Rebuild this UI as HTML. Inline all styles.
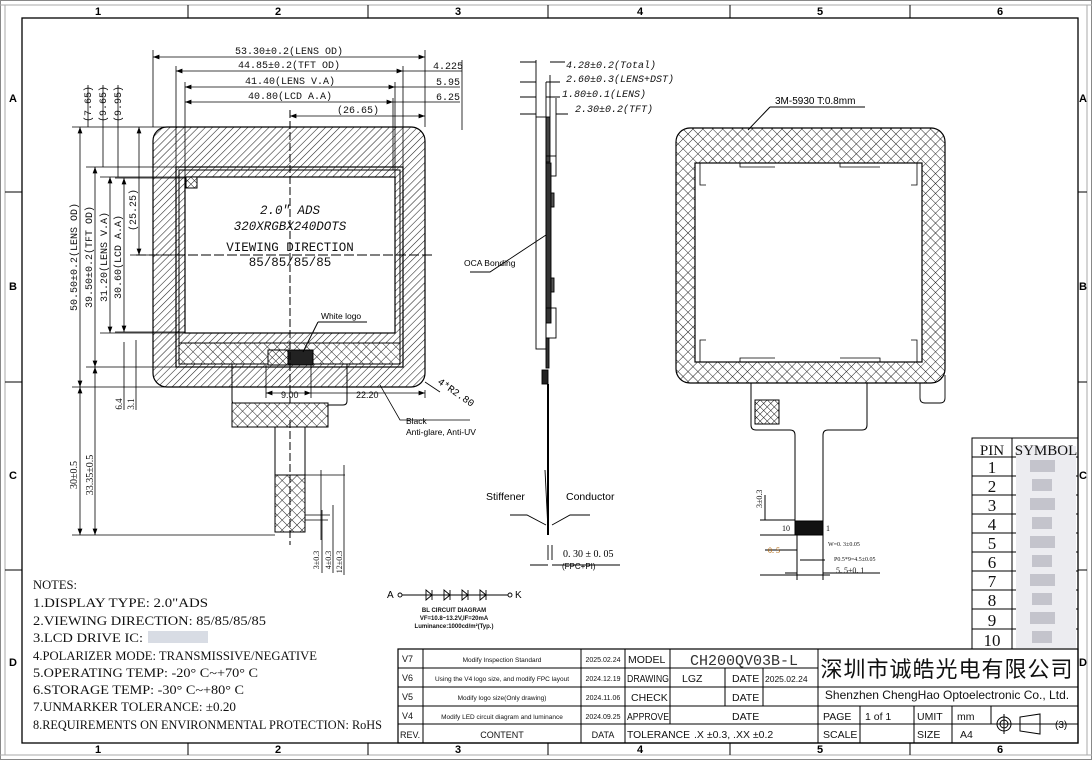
<!DOCTYPE html>
<html><head><meta charset="utf-8"><style>
html,body{margin:0;padding:0;background:#fff;}
svg{display:block;}
.m{font-family:"Liberation Mono",monospace;}
.s{font-family:"Liberation Sans",sans-serif;}
.r{font-family:"Liberation Serif",serif;}
</style></head><body>
<svg width="1092" height="760" viewBox="0 0 1092 760" xmlns="http://www.w3.org/2000/svg">
<defs>
<pattern id="hat" width="5" height="5" patternUnits="userSpaceOnUse" patternTransform="rotate(45)"><rect width="5" height="5" fill="#fff"/><line x1="0" y1="0" x2="0" y2="5" stroke="#222" stroke-width="1.1"/></pattern>
<pattern id="xh" width="7" height="7" patternUnits="userSpaceOnUse" patternTransform="rotate(45)"><rect width="7" height="7" fill="#fff"/><line x1="0" y1="0" x2="0" y2="7" stroke="#222" stroke-width="1"/><line x1="0" y1="0" x2="7" y2="0" stroke="#222" stroke-width="1"/></pattern>
<pattern id="xs" width="5" height="5" patternUnits="userSpaceOnUse" patternTransform="rotate(45)"><rect width="5" height="5" fill="#fff"/><line x1="0" y1="0" x2="0" y2="5" stroke="#111" stroke-width="1"/><line x1="0" y1="0" x2="5" y2="0" stroke="#111" stroke-width="1"/></pattern>
<marker id="a" markerWidth="8" markerHeight="6" refX="8" refY="3" orient="auto"><path d="M0,0 L8,3 L0,6z" fill="#000"/></marker>
<marker id="b" markerWidth="8" markerHeight="6" refX="0" refY="3" orient="auto"><path d="M8,0 L0,3 L8,6z" fill="#000"/></marker>
</defs>
<g fill="none" stroke="#000">
<rect x="0.5" y="0.5" width="1091" height="759" stroke="#888"/>
<rect x="22" y="18" width="1056" height="725" stroke-width="1.3"/>
<line x1="0" y1="5" x2="1092" y2="5" stroke="#aaa"/>
<line x1="0" y1="755" x2="1092" y2="755" stroke="#aaa"/>
<line x1="5" y1="5" x2="5" y2="755" stroke="#aaa"/>
<line x1="1087" y1="5" x2="1087" y2="755" stroke="#aaa"/>
<path d="M188,5V18M368,5V18M548,5V18M730,5V18M910,5V18M188,743V755M368,743V755M548,743V755M730,743V755M910,743V755M5,192H22M5,382H22M5,570H22M1078,192H1087M1078,382H1087M1078,570H1087"/>
</g>
<g class="s" font-weight="bold" font-size="11" text-anchor="middle">
<text x="98" y="15">1</text><text x="278" y="15">2</text><text x="458" y="15">3</text><text x="640" y="15">4</text><text x="820" y="15">5</text><text x="1000" y="15">6</text>
<text x="98" y="753">1</text><text x="278" y="753">2</text><text x="458" y="753">3</text><text x="640" y="753">4</text><text x="820" y="753">5</text><text x="1000" y="753">6</text>
<text x="13" y="102">A</text><text x="13" y="290">B</text><text x="13" y="479">C</text><text x="13" y="666">D</text>
<text x="1083" y="102">A</text><text x="1083" y="290">B</text><text x="1083" y="479">C</text><text x="1083" y="666">D</text>
</g>

<!-- FRONT VIEW -->
<g stroke="#000" fill="none">
<rect x="153" y="127" width="272" height="260" rx="14" fill="url(#hat)" stroke-width="1.2"/>
<rect x="176" y="167" width="227" height="200" fill="none" stroke-width="1.2"/>
<rect x="179" y="170" width="221" height="194"/>
<rect x="179" y="343" width="221" height="21" fill="url(#xh)"/>
<rect x="185" y="177" width="210" height="156" fill="#fff" stroke-width="1.2"/>
<rect x="186" y="177" width="11" height="11" fill="url(#xs)"/>
<rect x="268" y="350" width="20" height="15" fill="url(#xs)"/>
<rect x="288" y="350" width="25" height="15" fill="#222"/>
<line x1="290" y1="110" x2="290" y2="420" stroke-dasharray="8,3"/>
<line x1="136" y1="255" x2="432" y2="255" stroke-dasharray="10,3"/>
<path d="M232,364V400q0,5 5,5H270q5,0 5,5V532H305V410q0,-5 5,-5H343q4,0 4,-4V364"/>
<rect x="232" y="403" width="96" height="24" fill="url(#xh)"/>
<rect x="275" y="475" width="30" height="57" fill="url(#xh)"/>
<line x1="290" y1="420" x2="290" y2="545" stroke-dasharray="8,3"/>
</g>
<g class="m" font-size="12.5" text-anchor="middle" fill="#111">
<text x="290" y="214" font-style="italic">2.0" ADS</text>
<text x="290" y="230" font-style="italic">320XRGBX240DOTS</text>
<text x="290" y="251">VIEWING DIRECTION</text>
<text x="290" y="266">85/85/85/85</text>
</g>
<text x="321" y="319" class="s" font-size="8.5">White logo</text>
<path d="M318,322H367M318,322L303,352" stroke="#000" fill="none"/>
<g stroke="#000" stroke-width="0.8" fill="none">
<path d="M153,50V127M176,66V167M185,82V177M395,82V177M403,66V167M393,98V170M425,50V127M462,60V130"/>
<line x1="153" y1="57" x2="425" y2="57" marker-start="url(#b)" marker-end="url(#a)"/>
<line x1="176" y1="71" x2="403" y2="71" marker-start="url(#b)" marker-end="url(#a)"/>
<line x1="185" y1="87" x2="395" y2="87" marker-start="url(#b)" marker-end="url(#a)"/>
<line x1="185" y1="102" x2="393" y2="102" marker-start="url(#b)" marker-end="url(#a)"/>
<line x1="290" y1="116" x2="425" y2="116" marker-start="url(#b)" marker-end="url(#a)"/>
<path d="M403,71H462M395,87H460M393,102H460"/>
<path d="M72,127H165M86,167H176M100,177H185M115,178H185M130,255H175M72,387H165M86,367H176M100,333H185M115,332H185"/>
<line x1="80" y1="127" x2="80" y2="387" marker-start="url(#b)" marker-end="url(#a)"/>
<line x1="95" y1="167" x2="95" y2="367" marker-start="url(#b)" marker-end="url(#a)"/>
<line x1="110" y1="177" x2="110" y2="333" marker-start="url(#b)" marker-end="url(#a)"/>
<line x1="124" y1="178" x2="124" y2="332" marker-start="url(#b)" marker-end="url(#a)"/>
<line x1="139" y1="127" x2="139" y2="255" marker-start="url(#b)" marker-end="url(#a)"/>
<path d="M88,85V127M103,85V167M118,85V177"/>
<path d="M124,342V410M136,340V410"/>
<line x1="80" y1="387" x2="80" y2="535" marker-start="url(#b)" marker-end="url(#a)"/>
<line x1="95" y1="367" x2="95" y2="535" marker-start="url(#b)" marker-end="url(#a)"/>
<path d="M72,535H275M305,475H345M305,515H330M305,520H328"/>
<path d="M321,470V540M322,510V573M333,505V573M344,465V575"/>
<path d="M266,365V398M311,365V398M425,390V398"/>
<line x1="266" y1="393" x2="311" y2="393" marker-start="url(#b)" marker-end="url(#a)"/>
<line x1="311" y1="393" x2="425" y2="393" marker-end="url(#a)"/>
<path d="M425,382L440,392M380,385L400,420H470"/>
</g>
<g class="m" font-size="10" text-anchor="middle" fill="#111">
<text x="289" y="54">53.30±0.2(LENS OD)</text>
<text x="289" y="68">44.85±0.2(TFT OD)</text>
<text x="290" y="84">41.40(LENS V.A)</text>
<text x="290" y="99">40.80(LCD A.A)</text>
<text x="358" y="113">(26.65)</text>
<text x="448" y="69">4.225</text>
<text x="448" y="85">5.95</text>
<text x="448" y="100">6.25</text>
</g>
<g class="m" font-size="10" fill="#111" text-anchor="middle">
<text transform="translate(77,257) rotate(-90)">50.50±0.2(LENS OD)</text>
<text transform="translate(92,257) rotate(-90)">39.50±0.2(TFT OD)</text>
<text transform="translate(107,257) rotate(-90)">31.20(LENS V.A)</text>
<text transform="translate(121,257) rotate(-90)">30.60(LCD A.A)</text>
<text transform="translate(136,210) rotate(-90)">(25.25)</text>
<text transform="translate(91,104) rotate(-90)">(7.65)</text>
<text transform="translate(106,104) rotate(-90)">(9.65)</text>
<text transform="translate(121,104) rotate(-90)">(9.95)</text>
</g>
<g class="r" font-size="9" fill="#111" text-anchor="middle">
<text transform="translate(122,404) rotate(-90)">6.4</text>
<text transform="translate(134,404) rotate(-90)">3.1</text>
<text transform="translate(77,475) rotate(-90)" font-size="10">30±0.5</text>
<text transform="translate(93,475) rotate(-90)" font-size="10">33.35±0.5</text>
<text transform="translate(319,560) rotate(-90)" font-size="8">3±0.3</text>
<text transform="translate(331,560) rotate(-90)" font-size="8">4±0.3</text>
<text transform="translate(342,562) rotate(-90)" font-size="8">12±0.3</text>
</g>
<text x="281" y="398" class="s" font-size="9" fill="#111">9.00</text>
<text x="356" y="398" class="s" font-size="9" fill="#111">22.20</text>
<text transform="translate(437,383) rotate(35)" class="m" font-size="10">4*R2.80</text>
<text x="406" y="424" class="s" font-size="8.5">Black</text>
<text x="406" y="435" class="s" font-size="8.5">Anti-glare, Anti-UV</text>

<!-- SIDE VIEW -->
<g stroke="#000" fill="none" stroke-width="0.9">
<rect x="536" y="117" width="10" height="232"/>
<rect x="546" y="117" width="4" height="45" fill="#444"/>
<rect x="546" y="156" width="10" height="20"/>
<rect x="546" y="163" width="5" height="160" fill="#333"/>
<rect x="551" y="193" width="3" height="14" fill="#555"/>
<rect x="551" y="278" width="3" height="14" fill="#555"/>
<rect x="546" y="308" width="10" height="30"/>
<rect x="546" y="338" width="3" height="30" fill="#333"/>
<rect x="542" y="370" width="6" height="14" fill="#222"/>
<line x1="548" y1="384" x2="548" y2="535" stroke-width="2"/>
<line x1="545" y1="470" x2="548" y2="530"/>
<path d="M536,60V117M546,82V117M550,75V117M556,98V156"/>
<path d="M520,62H536M550,62H565M520,82H536M546,82H560M520,97H536M546,97H560M520,114H536M556,114H568"/>
<path d="M548,545V560M552,545V560M530,565H548M552,565H620M510,515H527L546,525M590,515H570L552,525M470,272H490L546,235"/>
</g>
<g class="m" font-size="10" font-style="italic" fill="#111">
<text x="566" y="68">4.28±0.2(Total)</text>
<text x="566" y="82">2.60±0.3(LENS+DST)</text>
<text x="562" y="97">1.80±0.1(LENS)</text>
<text x="575" y="112">2.30±0.2(TFT)</text>
</g>
<text x="464" y="266" class="s" font-size="8.5">OCA Bonding</text>
<text x="486" y="500" class="s" font-size="10.5">Stiffener</text>
<text x="566" y="500" class="s" font-size="10.5">Conductor</text>
<text x="563" y="557" class="r" font-size="10">0. 30 ± 0. 05</text>
<text x="562" y="569" class="s" font-size="8">(FPC+PI)</text>
<text x="387" y="598" class="s" font-size="10">A</text>
<text x="515" y="598" class="s" font-size="10">K</text>
<g stroke="#000" fill="none" stroke-width="0.9">
<circle cx="400" cy="595" r="2"/><circle cx="510" cy="595" r="2"/>
<path d="M402,595H508"/>
<path d="M426,590L432,595L426,600zM432,590V600M444,590L450,595L444,600zM450,590V600M462,590L468,595L462,600zM468,590V600M480,590L486,595L480,600zM486,590V600"/>
</g>
<g class="s" font-size="6" font-weight="bold" text-anchor="middle" fill="#111">
<text x="454" y="612">BL CIRCUIT DIAGRAM</text>
<text x="454" y="620">VF=10.8~13.2V,IF=20mA</text>
<text x="454" y="628">Luminance:1000cd/m²(Typ.)</text>
</g>

<!-- REAR VIEW -->
<g stroke="#000" fill="none">
<path d="M920,375V398q0,5 5,5H940q5,0 5,-5V375" stroke-width="0.9"/>
<rect x="676" y="128" width="269" height="255" rx="14" fill="url(#xh)" stroke-width="1.2"/>
<rect x="695" y="163" width="227" height="199" fill="#fff" stroke-width="1.2"/>
<path d="M700,163V185H706M917,163V185H911M700,362V340H706M917,362V340H911M740,163V167H775M840,163V167H880M740,362V358H775M880,362V358H840" stroke-width="0.8"/>
<path d="M751,383V425q0,5 5,5H790q5,0 5,5V535H823V435q0,-5 5,-5H862q5,0 5,-5V383"/>
<rect x="755" y="400" width="24" height="24" fill="url(#xs)"/>
<rect x="795" y="521" width="28" height="14" fill="#111"/>
<path d="M797,535V580M823,535V580M760,520H795M760,535H795M765,495V520"/>
<path d="M765,550H797M800,560H825M785,573H797M823,573H880M760,575H830"/>
</g>
<text x="775" y="104" class="s" font-size="10">3M-5930 T:0.8mm</text>
<path d="M770,107H865M770,107L748,130" stroke="#000" fill="none"/>
<g class="r" font-size="8" fill="#111">
<text x="782" y="531">10</text><text x="826" y="531">1</text>
<text x="768" y="553" fill="#b06000">0. 5</text>
<text x="828" y="546" font-size="6">W=0. 3±0.05</text>
<text x="834" y="561" font-size="6">P0.5*9=4.5±0.05</text>
<text x="836" y="573">5. 5±0. 1</text>
<text transform="translate(762,508) rotate(-90)">3±0.3</text>
</g>

<!-- PIN TABLE -->
<g stroke="#000" fill="none">
<rect x="972" y="438" width="106" height="211"/>
<line x1="1012" y1="438" x2="1012" y2="649"/>
<path d="M972,457H1078M972,476H1078M972,495H1078M972,514H1078M972,533H1078M972,552H1078M972,571H1078M972,590H1078M972,609H1078M972,629H1078"/>
</g>
<rect x="1016" y="446" width="60" height="202" fill="#ececf0"/>
<g fill="#c4c4cc"><rect x="1030" y="460" width="25" height="12"/><rect x="1030" y="498" width="25" height="12"/><rect x="1030" y="536" width="25" height="12"/><rect x="1030" y="574" width="25" height="12"/><rect x="1030" y="612" width="25" height="12"/><rect x="1032" y="479" width="20" height="12"/><rect x="1032" y="517" width="20" height="12"/><rect x="1032" y="555" width="20" height="12"/><rect x="1032" y="593" width="20" height="12"/><rect x="1032" y="631" width="20" height="12"/></g>
<g class="r" font-size="17" text-anchor="middle" fill="#111">
<text x="992" y="455" font-size="15">PIN</text><text x="1046" y="455" font-size="15">SYMBOL</text>
<text x="992" y="473">1</text><text x="992" y="492">2</text><text x="992" y="511">3</text><text x="992" y="530">4</text><text x="992" y="549">5</text><text x="992" y="568">6</text><text x="992" y="587">7</text><text x="992" y="606">8</text><text x="992" y="626">9</text><text x="992" y="646">10</text>
</g>

<!-- NOTES -->
<g class="r" font-size="13" fill="#111">
<text x="33" y="589" textLength="44" lengthAdjust="spacingAndGlyphs">NOTES:</text>
<text x="33" y="607" textLength="175" lengthAdjust="spacingAndGlyphs">1.DISPLAY TYPE:  2.0"ADS</text>
<text x="33" y="625" textLength="233" lengthAdjust="spacingAndGlyphs">2.VIEWING DIRECTION: 85/85/85/85</text>
<text x="33" y="642" textLength="110" lengthAdjust="spacingAndGlyphs">3.LCD DRIVE IC:</text>
<text x="33" y="660" textLength="284" lengthAdjust="spacingAndGlyphs">4.POLARIZER MODE: TRANSMISSIVE/NEGATIVE</text>
<text x="33" y="677" textLength="225" lengthAdjust="spacingAndGlyphs">5.OPERATING TEMP: -20° C~+70° C</text>
<text x="33" y="694" textLength="211" lengthAdjust="spacingAndGlyphs">6.STORAGE TEMP: -30° C~+80° C</text>
<text x="33" y="711" textLength="203" lengthAdjust="spacingAndGlyphs">7.UNMARKER TOLERANCE: ±0.20</text>
<text x="33" y="729" textLength="349" lengthAdjust="spacingAndGlyphs">8.REQUIREMENTS ON ENVIRONMENTAL PROTECTION: RoHS</text>
</g>
<rect x="148" y="631" width="60" height="12" fill="#d8dce4"/>

<!-- TITLE BLOCK -->
<g stroke="#000" fill="none">
<rect x="398" y="649" width="680" height="94" stroke-width="1.2"/>
<path d="M398,668H818M398,687H1078M398,706H1078M398,724H1078"/>
<path d="M423,649V743M581,649V743M625,649V743M670,649V724M725,668V706M763,668V706M818,649V743M860,706V743M914,706V743M952,706V743M991,706V724"/>
</g>
<g class="s" font-size="9" fill="#111">
<text x="402" y="662">V7</text><text x="402" y="681">V6</text><text x="402" y="700">V5</text><text x="402" y="719">V4</text><text x="400" y="738">REV.</text>
<g font-size="6.5" text-anchor="middle"><text x="502" y="662">Modify Inspection Standard</text><text x="502" y="681">Using the V4 logo size, and modify FPC layout</text><text x="502" y="700">Modify logo size(Only drawing)</text><text x="502" y="719">Modify LED circuit diagram and luminance</text></g>
<text x="502" y="738" text-anchor="middle">CONTENT</text>
<g font-size="7" text-anchor="middle"><text x="603" y="662">2025.02.24</text><text x="603" y="681">2024.12.19</text><text x="603" y="700">2024.11.06</text><text x="603" y="719">2024.09.25</text></g>
<text x="603" y="738" text-anchor="middle">DATA</text>
<g font-size="10.5"><text x="628" y="663">MODEL</text><text x="627" y="682" textLength="42" lengthAdjust="spacingAndGlyphs">DRAWING</text><text x="631" y="701">CHECK</text><text x="627" y="720" textLength="42" lengthAdjust="spacingAndGlyphs">APPROVE</text><text x="627" y="738" textLength="63" lengthAdjust="spacingAndGlyphs">TOLERANCE</text>
<text x="682" y="682">LGZ</text><text x="732" y="682">DATE</text><text x="732" y="701">DATE</text><text x="732" y="720">DATE</text>
<text x="694" y="738">.X  ±0.3,  .XX  ±0.2</text>
<text x="823" y="720">PAGE</text><text x="865" y="720">1  of  1</text><text x="917" y="720">UMIT</text><text x="957" y="720">mm</text>
<text x="823" y="738">SCALE</text><text x="917" y="738">SIZE</text><text x="960" y="738">A4</text></g>
<text x="765" y="682" font-size="8.5">2025.02.24</text>
</g>
<text x="744" y="665" class="m" font-size="15" text-anchor="middle" fill="#333">CH200QV03B-L</text>
<text x="947" y="677" font-family="'Noto Sans CJK SC',sans-serif" font-size="22" text-anchor="middle" fill="#111" letter-spacing="1">深圳市诚皓光电有限公司</text>
<text x="947" y="699" class="s" font-size="12" text-anchor="middle" fill="#111">Shenzhen ChengHao Optoelectronic Co., Ltd.</text>
<g stroke="#000" fill="none"><circle cx="1004" cy="724" r="7"/><circle cx="1004" cy="724" r="4"/><path d="M994,724H1014M1004,714V734M1020,717V731L1040,734V714z M1014,724H1046"/></g>
<text x="1055" y="728" class="s" font-size="10">(3)</text>
</svg>
</body></html>
